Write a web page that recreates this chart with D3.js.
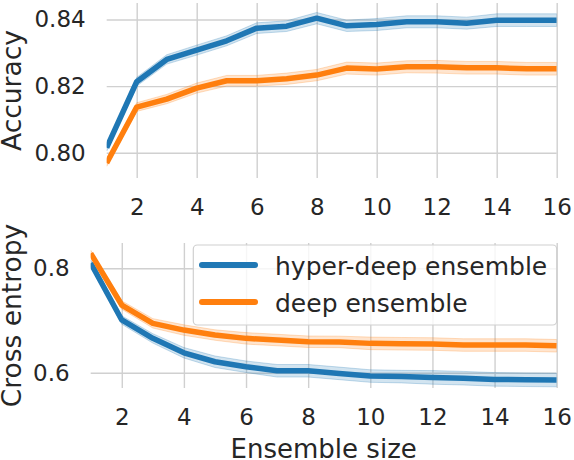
<!DOCTYPE html>
<html>
<head>
<meta charset="utf-8">
<script src="https://cdn.jsdelivr.net/npm/d3@7"></script>
<style>
  html, body { margin: 0; padding: 0; background: #fff; }
  svg { display: block; font-family: "DejaVu Sans", sans-serif; }
  .tick text { fill: #262626; }
</style>
</head>
<body>
<svg id="chart" width="574" height="460"></svg>
<script>
// ensemble sizes on the x axis
const sizes = [1, 2, 3, 4, 5, 6, 7, 8, 9, 10, 11, 12, 13, 14, 15, 16];
const xTicks = [2, 4, 6, 8, 10, 12, 14, 16];

// accuracy (mean and half-width of the band)
const accHyper = [0.8015, 0.8213, 0.828, 0.8308, 0.8336, 0.8374, 0.838, 0.8404, 0.8381, 0.8385, 0.8393, 0.8393, 0.8389, 0.8398, 0.8398, 0.8398];
const accHyperCi = [0.001, 0.0013, 0.0014, 0.0015, 0.0015, 0.0016, 0.0016, 0.0017, 0.0017, 0.0018, 0.0018, 0.0018, 0.0018, 0.0019, 0.0019, 0.0019];
const accDeep = [0.7969, 0.8137, 0.8161, 0.8194, 0.8216, 0.8216, 0.8222, 0.8233, 0.8254, 0.8251, 0.8258, 0.8258, 0.8255, 0.8255, 0.8252, 0.8252];
const accDeepCi = [0.001, 0.0013, 0.0014, 0.0015, 0.0016, 0.0016, 0.0017, 0.0017, 0.0018, 0.0018, 0.0018, 0.0019, 0.0019, 0.0019, 0.0019, 0.0019];
const accTicks = [0.80, 0.82, 0.84];

// cross entropy (mean and half-width of the band)
const ceHyper = [0.81, 0.701, 0.6658, 0.6382, 0.621, 0.6114, 0.6037, 0.6037, 0.5987, 0.5936, 0.5925, 0.591, 0.5895, 0.5872, 0.5865, 0.586];
const ceHyperCi = [0.006, 0.008, 0.009, 0.01, 0.011, 0.011, 0.012, 0.012, 0.012, 0.012, 0.012, 0.013, 0.013, 0.013, 0.013, 0.013];
const ceDeep = [0.8287, 0.7297, 0.6946, 0.6817, 0.6722, 0.6658, 0.6626, 0.6593, 0.659, 0.6562, 0.6555, 0.655, 0.653, 0.653, 0.653, 0.6516];
const ceDeepCi = [0.006, 0.008, 0.009, 0.01, 0.01, 0.011, 0.011, 0.011, 0.011, 0.012, 0.012, 0.012, 0.012, 0.012, 0.012, 0.012];
const ceTicks = [0.6, 0.8];

const seriesNames = ["hyper-deep ensemble", "deep ensemble"];
const colors = ["#1f77b4", "#ff7f0e"];

const svg = d3.select("#chart");
const tickSize = 23;
const labelSize = 26.5;
const legendSize = 25;

function drawPanel(cfg) {
  const { left, right, top, bottom, yDomain, yTicks, yFmt, series, yLabel, id } = cfg;

  const x = d3.scaleLinear().domain([1, 16]).range([left, right]);
  const y = d3.scaleLinear().domain(yDomain).range([bottom, top]);

  const g = svg.append("g");

  // gridlines
  g.append("g")
    .attr("transform", `translate(0, ${bottom})`)
    .call(d3.axisBottom(x).tickValues(xTicks).tickSize(-(bottom - top)).tickFormat(""))
    .call((a) => a.select(".domain").remove())
    .call((a) => a.selectAll("line").attr("stroke", "#d0d0d0").attr("stroke-width", 1.4));
  g.append("g")
    .attr("transform", `translate(${left}, 0)`)
    .call(d3.axisLeft(y).tickValues(yTicks).tickSize(-(right - left)).tickFormat(""))
    .call((a) => a.select(".domain").remove())
    .call((a) => a.selectAll("line").attr("stroke", "#d0d0d0").attr("stroke-width", 1.4));

  // tick labels
  g.append("g")
    .attr("transform", `translate(0, ${bottom})`)
    .call(d3.axisBottom(x).tickValues(xTicks).tickSize(0).tickPadding(21))
    .call((a) => a.select(".domain").remove())
    .call((a) => a.selectAll("text").attr("font-size", tickSize).attr("font-family", "DejaVu Sans"));
  g.append("g")
    .attr("transform", `translate(${left}, 0)`)
    .call(d3.axisLeft(y).tickValues(yTicks).tickSize(0).tickPadding(21).tickFormat(d3.format(yFmt)))
    .call((a) => a.select(".domain").remove())
    .call((a) => a.selectAll("text").attr("font-size", tickSize).attr("font-family", "DejaVu Sans"));

  // y label
  g.append("text")
    .attr("transform", `translate(21, ${(top + bottom) / 2}) rotate(-90)`)
    .attr("text-anchor", "middle")
    .attr("font-size", labelSize)
    .attr("fill", "#262626")
    .text(yLabel);

  svg.append("clipPath").attr("id", id)
    .append("rect").attr("x", left).attr("y", top - 10).attr("width", right - left).attr("height", bottom - top + 20);

  const plot = g.append("g").attr("clip-path", `url(#${id})`);

  const area = d3.area()
    .x((d) => x(d.size))
    .y0((d) => y(d.mean - d.ci))
    .y1((d) => y(d.mean + d.ci));
  const line = d3.line().x((d) => x(d.size)).y((d) => y(d.mean));

  series.forEach(([means, cis], i) => {
    const pts = sizes.map((s, j) => ({ size: s, mean: means[j], ci: cis[j] }));
    plot.append("path")
      .attr("d", area(pts))
      .attr("fill", colors[i])
      .attr("fill-opacity", 0.2)
      .attr("stroke", colors[i])
      .attr("stroke-opacity", 0.25)
      .attr("stroke-width", 1);
  });
  series.forEach(([means], i) => {
    const pts = sizes.map((s, j) => ({ size: s, mean: means[j] }));
    plot.append("path")
      .attr("d", line(pts))
      .attr("fill", "none")
      .attr("stroke", colors[i])
      .attr("stroke-width", 5.5)
      .attr("stroke-linejoin", "round");
  });

  return { x, y };
}

drawPanel({
  id: "clipTop",
  left: 106.7, right: 556.7, top: 3, bottom: 178,
  yDomain: [0.7924, 0.84495],
  yTicks: accTicks, yFmt: ".2f",
  series: [[accHyper, accHyperCi], [accDeep, accDeepCi]],
  yLabel: "Accuracy"
});

drawPanel({
  id: "clipBottom",
  left: 90.7, right: 556.7, top: 243, bottom: 388,
  yDomain: [0.5707, 0.8485],
  yTicks: ceTicks, yFmt: ".1f",
  series: [[ceHyper, ceHyperCi], [ceDeep, ceDeepCi]],
  yLabel: "Cross entropy"
});

// x label
svg.append("text")
  .attr("x", (90.7 + 556.7) / 2)
  .attr("y", 458)
  .attr("text-anchor", "middle")
  .attr("font-size", 26)
  .attr("fill", "#262626")
  .text("Ensemble size");

// legend
const legend = svg.append("g");
legend.append("rect")
  .attr("x", 193.3).attr("y", 245)
  .attr("width", 556.7 - 193.3).attr("height", 80)
  .attr("rx", 4)
  .attr("fill", "#fff").attr("fill-opacity", 0.8)
  .attr("stroke", "#d0d0d0").attr("stroke-width", 1.2);

seriesNames.forEach((name, i) => {
  const ly = 265 + i * 37;
  legend.append("line")
    .attr("x1", 202).attr("x2", 255)
    .attr("y1", ly).attr("y2", ly)
    .attr("stroke", colors[i]).attr("stroke-width", 6)
    .attr("stroke-linecap", "round");
  legend.append("text")
    .attr("x", 275).attr("y", ly + 9.5)
    .attr("font-size", legendSize)
    .attr("fill", "#262626")
    .text(name);
});
</script>
</body>
</html>
